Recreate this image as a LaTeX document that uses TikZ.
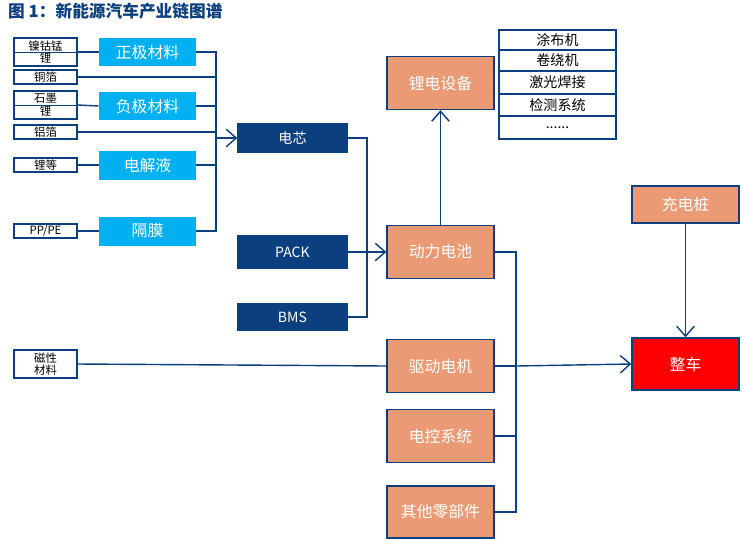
\documentclass[tikz,border=0pt]{standalone}
\usepackage{fontspec}
\setmainfont{Noto Sans CJK SC}
\usetikzlibrary{arrows.meta}
\definecolor{navy}{HTML}{0B3F7F}
\definecolor{sky}{HTML}{00B0F0}
\definecolor{salmon}{HTML}{EA9A74}
\newcommand\moredots{......}
\tikzset{
  raw/.style={rectangle, draw=navy, thick, fill=white, inner sep=0pt, font=\fontsize{6.5}{7}\selectfont, align=center},
  mat/.style={rectangle, fill=sky, text=white, inner sep=0pt, font=\fontsize{9}{10}\selectfont},
  cell/.style={rectangle, draw=navy, thick, fill=navy, text=white, inner sep=0pt, font=\fontsize{8}{9}\selectfont},
  part/.style={rectangle, draw=navy, thick, fill=salmon, text=white, inner sep=0pt, font=\fontsize{9}{10}\selectfont},
  item/.style={rectangle, draw=navy, thick, fill=white, inner sep=0pt, font=\fontsize{8}{9}\selectfont},
  link/.style={navy, thick},
  arr/.style={navy, thick, -{Straight Barb[length=2mm,width=3.5mm]}}
}
\begin{document}
\begin{tikzpicture}[x=0.02cm, y=-0.02cm]
\useasboundingbox (0,0) rectangle (743,538);
\node[anchor=west, font=\bfseries\fontsize{9.5}{10}\selectfont, text=navy] (title) at (2,11) {图 1：新能源汽车产业链图谱};

% raw materials
\node[raw, minimum width=1.26cm, minimum height=0.56cm] (ncm) at (45.5,52) {镍钴锰\\锂};
\draw[navy] (ncm.west) -- (ncm.east);
\node[raw, minimum width=1.26cm, minimum height=0.28cm] (cu) at (45.5,77) {铜箔};
\node[raw, minimum width=1.26cm, minimum height=0.56cm] (gr) at (45.5,105) {石墨\\锂};
\draw[navy] (gr.west) -- (gr.east);
\node[raw, minimum width=1.26cm, minimum height=0.28cm] (al) at (45.5,132) {铝箔};
\node[raw, minimum width=1.26cm, minimum height=0.28cm] (li) at (45.5,165) {锂等};
\node[raw, minimum width=1.26cm, minimum height=0.28cm] (pp) at (45.5,231) {PP/PE};
\node[raw, minimum width=1.26cm, minimum height=0.56cm] (mag) at (45.5,364) {磁性\\材料};

% materials
\node[mat, minimum width=1.94cm, minimum height=0.56cm] (cath) at (147.5,52) {正极材料};
\node[mat, minimum width=1.94cm, minimum height=0.56cm] (anod) at (147.5,106) {负极材料};
\node[mat, minimum width=1.94cm, minimum height=0.58cm] (elec) at (147.5,165) {电解液};
\node[mat, minimum width=1.94cm, minimum height=0.58cm] (sep) at (147.5,231) {隔膜};

% cell parts
\node[cell, minimum width=2.18cm, minimum height=0.56cm] (core) at (292.5,138) {电芯};
\node[cell, minimum width=2.18cm, minimum height=0.64cm] (pack) at (292.5,252) {PACK};
\node[cell, minimum width=2.18cm, minimum height=0.54cm] (bms) at (292.5,317) {BMS};

% components
\node[part, minimum width=2.14cm, minimum height=1.06cm] (equip) at (440.5,83) {锂电设备};
\node[part, minimum width=2.14cm, minimum height=1.06cm] (batt) at (440.5,252) {动力电池};
\node[part, minimum width=2.14cm, minimum height=1.06cm] (motor) at (440.5,366) {驱动电机};
\node[part, minimum width=2.14cm, minimum height=1.06cm] (ctrl) at (440.5,436) {电控系统};
\node[part, minimum width=2.14cm, minimum height=1.04cm] (other) at (440.5,512) {其他零部件};
\node[part, minimum width=2.14cm, minimum height=0.74cm] (pile) at (685.5,204.5) {充电桩};
\node[part, fill=red, minimum width=2.14cm, minimum height=1.04cm] (car) at (685.5,364) {整车};

% equipment list
\foreach \t/\ya/\yb [count=\i] in {涂布机/30/50, 卷绕机/50/71, 激光焊接/71/94, 检测系统/94/116, \moredots/116/139}
  \node[item, minimum width=2.34cm, minimum height={(\yb-\ya)*0.02cm}] (eq\i) at (557.5,{(\ya+\yb)/2}) {\t};

% material links
\coordinate (busA) at (216,138);
\draw[link] (ncm.east) -- (cath.west);
\draw[link] (gr.east) -- (anod.west);
\draw[link] (li.east) -- (elec.west);
\draw[link] (pp.east) -- (sep.west);
\draw[link] (cath.east) -- (216,52) -- (216,231) -- (sep.east);
\draw[link] (anod.east) -- (216,106);
\draw[link] (elec.east) -- (216,165);
\draw[link] (cu.east) -- (216,77);
\draw[link] (al.east) -- (216,132);
\draw[arr] (busA) -- (core.west);

% cell links
\draw[link] (core.east) -- (367,138) -- (367,317) -- (bms.east);
\draw[link] (pack.east) -- (367,252);
\draw[arr] (367,252) -- (batt.west);
\draw[arr] (batt.north) -- (equip.south);

% vehicle links
\draw[link] (mag.east) -- (motor.west);
\draw[link] (batt.east) -- (516,252) -- (516,512) -- (other.east);
\draw[link] (motor.east) -- (516,366);
\draw[link] (ctrl.east) -- (516,436);
\draw[arr] (516,366) -- (car.west);
\draw[arr] (pile.south) -- (car.north);
\end{tikzpicture}
\end{document}
